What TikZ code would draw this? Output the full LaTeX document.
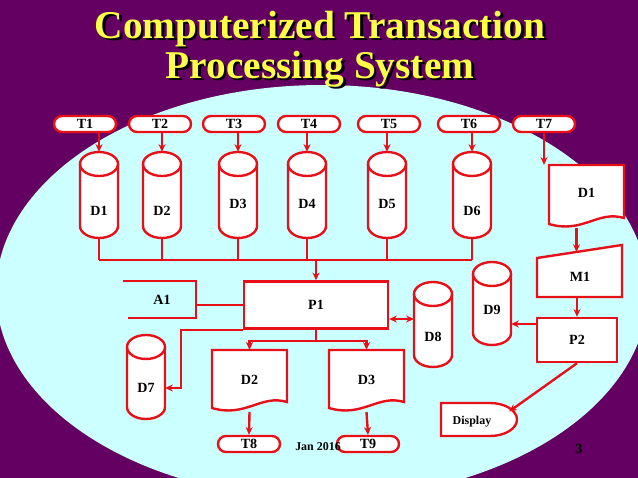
\documentclass[tikz,border=0pt]{standalone}
\usepackage{fontspec}
\usetikzlibrary{arrows.meta}
\setmainfont{Liberation Serif}
\definecolor{bgp}{HTML}{640062}
\definecolor{cyanbg}{HTML}{CCFFFF}
\definecolor{lred}{HTML}{E81018}
\definecolor{ttl}{HTML}{FFFF44}
\tikzset{
 ln/.style={draw=lred,line width=3.4pt},
 shp/.style={draw=lred,line width=3.4pt,fill=white},
 arr/.style={draw=lred,line width=3.4pt,-{Stealth[length=11pt,width=10pt]}},
 lbl/.style={font=\fontsize{20}{22}\selectfont\bfseries,text=black},
 term/.style={shp,rounded corners=4mm,minimum width=31mm,minimum height=8mm,inner sep=0pt,lbl},
 boxn/.style={shp,inner sep=0pt,lbl},
 anch/.style={inner sep=0pt,draw=none}
}
\newcommand\cyl[6]{%
 \path[shp] (#2-19,-#3-12) -- (#2-19,-#4+12) arc[start angle=180,end angle=360,x radius=19,y radius=12] -- (#2+19,-#3-12) arc[start angle=0,end angle=180,x radius=19,y radius=12] -- cycle;
 \draw[ln] (#2-19,-#3-12) arc[start angle=180,end angle=360,x radius=19,y radius=12];
 \node[anch,minimum width=19mm,minimum height={(#4-#3)*0.5mm}] (#1) at (#2,{-(#3+#4)/2}) {};
 \node[lbl] at (#2,-#5) {#6};}
\newcommand\docu[7]{%
 \path[shp] (#2,-#4) -- (#3,-#4) -- (#3,{-(#5-10)}) .. controls ({#3-0.35*(#3-#2)},{-(#5-18)}) and ({#2+0.45*(#3-#2)},{-(#5+6)}) .. (#2,{-(#5-4)}) -- cycle;
 \node[anch,minimum width={(#3-#2)*0.5mm},minimum height={(#5-#4)*0.5mm}] (#1) at ({(#2+#3)/2},{-(#4+#5)/2}) {};
 \node[lbl] at ({(#2+#3)/2},-#6) {#7};}
\begin{document}
\begin{tikzpicture}[x=0.5mm,y=0.5mm]
\fill[bgp] (0,0) rectangle (638,-478);
\useasboundingbox (0,0) rectangle (638,-478);
\begin{scope}
\clip (0,0) rectangle (638,-478);
\fill[cyanbg] (322,-292) ellipse [x radius=326,y radius=207];
\end{scope}
% title
\foreach \dx/\dy/\c in {2.5/-2.5/black,0/0/ttl}{
\node[text=\c,font=\fontsize{56}{57}\selectfont\bfseries,align=center] at (320+\dx,-49+\dy) {Computerized Transaction\\Processing System};}
% terminals
\node[term] (t1) at (85,-124) {T1};
\node[term] (t2) at (160,-124) {T2};
\node[term] (t3) at (234,-124) {T3};
\node[term] (t4) at (309,-124) {T4};
\node[term] (t5) at (389,-124) {T5};
\node[term] (t6) at (469,-124) {T6};
\node[term] (t7) at (544,-124) {T7};
% cylinders
\cyl{d1}{99}{152}{238}{211}{D1}
\cyl{d2}{162}{152}{238}{211}{D2}
\cyl{d3}{238}{152}{238}{204}{D3}
\cyl{d4}{307}{152}{238}{204}{D4}
\cyl{d5}{387}{152}{238}{204}{D5}
\cyl{d6}{472}{152}{238}{211}{D6}
\foreach \i in {1,...,6}{\draw[arr] (t\i.south -| d\i.north) -- (d\i.north);}
\coordinate (busL) at (99,-260);
\coordinate (busR) at (472,-260);
\foreach \i in {1,...,6}{\draw[ln] (d\i.south) -- (d\i.south |- busL);}
\draw[ln] (busL) -- (busR);
% P1
\node[boxn,minimum width=72mm,minimum height=23.5mm] (p1) at (316,-305) {P1};
\draw[arr] (p1.north |- busL) -- (p1.north);
% A1
\draw[ln] (123,-281) -- (196,-281) -- (196,-318) -- (128,-318);
\coordinate (a1) at (196,-305);
\node[lbl] at (162,-300) {A1};
\draw[ln] (a1) -- (p1.west);
% D8 D9 D7
\cyl{d8}{433}{282}{367}{337}{D8}
\cyl{d9}{492}{262}{345}{310}{D9}
\cyl{d7}{146}{335}{419}{388}{D7}
\draw[draw=lred,line width=3.4pt,{Stealth[length=11pt,width=10pt]}-{Stealth[length=11pt,width=10pt]}] ([yshift=-7mm]p1.east) -- ([yshift=-7mm]p1.east -| d8.west);
\draw[arr] (p1.south west) -- ++(-62,0) |- ([yshift=-5.5mm]d7.east);
% D2 D3 docs
\docu{dd2}{212}{287}{350}{412}{380}{D2}
\docu{dd3}{329}{404}{350}{412}{380}{D3}
\draw[ln] (p1.south) -- ++(0,-11) coordinate (br);
\draw[arr] (br) -| (dd2.north);
\draw[arr] (br) -| (dd3.north);
\node[term] (t8) at (249,-444) {T8};
\node[term] (t9) at (368,-444) {T9};
\draw[arr] (dd2.south) -- (t8.north);
\draw[arr] (dd3.south) -- (t9.north);
% right side
\docu{rd1}{549}{624}{165}{228}{193}{D1}
\draw[arr] (t7.south) -- (t7.south |- rd1.north);
\path[shp] (537,-258) -- (622,-245) -- (622,-297) -- (537,-297) -- cycle;
\node[anch,minimum width=42.5mm,minimum height=26mm] (m1) at (579.5,-271) {};
\node[lbl] at (580,-277) {M1};
\draw[arr] ([xshift=-5mm]rd1.south) -- ([xshift=-5mm]rd1.south |- 0,-252);
\node[boxn,minimum width=40mm,minimum height=22mm] (p2) at (577,-340) {P2};
\draw[arr] (m1.south -| p2.north) -- (p2.north);
\draw[arr] ([yshift=8mm]p2.west) -- ([yshift=8mm]p2.west -| d9.east);
\path[shp] (441,-403) -- (490,-403) arc[start angle=90,end angle=-90,x radius=27,y radius=16.5] -- (441,-436) -- cycle;
\node[anch,minimum width=38mm,minimum height=16.5mm] (disp) at (479,-419.5) {};
\node[lbl,font=\fontsize{17}{19}\selectfont\bfseries] at (472,-422) {Display};
\draw[arr] (p2.south) -- ([shift={(-4mm,4mm)}]disp.east);
% footer
\node[lbl,font=\fontsize{17}{19}\selectfont\bfseries] at (318,-447) {Jan 2016};
\node[lbl] at (579,-449) {3};
\end{tikzpicture}
\end{document}
